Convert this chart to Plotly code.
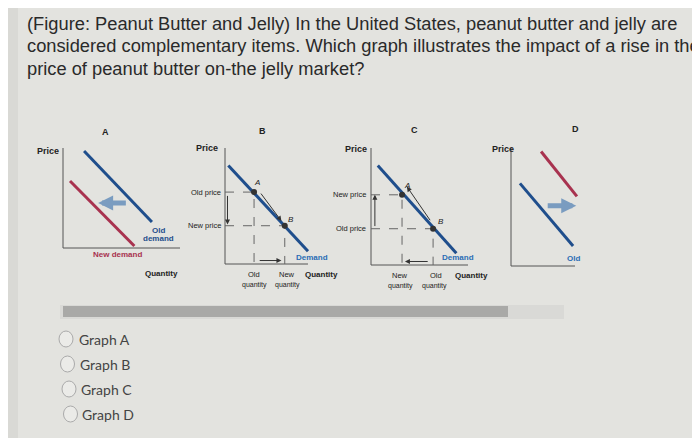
import plotly.graph_objects as go

W, H = 700, 438
BG = "#e3e3df"
BLUE = "#1f4e8c"
RED = "#a8324f"
LBLUE = "#2a6db5"

question = [
    "(Figure: Peanut Butter and Jelly) In the United States, peanut butter and jelly are",
    "considered complementary items. Which graph illustrates the impact of a rise in the",
    "price of peanut butter on-the jelly market?",
]
choices = ["Graph A", "Graph B", "Graph C", "Graph D"]

# graph A: old and new demand
a_old_x, a_old_y = [1.8, 7.6], [9.7, 2.6]
a_new_x, a_new_y = [0.6, 6.1], [6.7, 0.2]
# graph B: movement along demand, price falls
b_dem_x, b_dem_y = [0.4, 10.0], [8.5, 1.1]
b_pts_x, b_pts_y = [3.5, 7.2], [6.2, 3.3]
# graph C: movement along demand, price rises
c_dem_x, c_dem_y = [0.7, 8.8], [8.5, 1.0]
c_pts_x, c_pts_y = [3.2, 6.4], [6.0, 3.1]
# graph D: old and new demand
d_old_x, d_old_y = [1.4, 9.7], [7.0, 1.7]
d_new_x, d_new_y = [4.7, 10.3], [9.7, 5.9]

# pixel boxes of the four little axes (left, right, top, bottom); data 0..10 inside
boxes = [(55, 172, 140, 240), (217, 300, 140, 256), (363, 460, 140, 257), (503, 567, 140, 258)]
XLO, XHI, YLO, YHI = -4.5, 13.5, -3.0, 12.5

fig = go.Figure()
for i, (l, r, t, b) in enumerate(boxes):
    n = "" if i == 0 else str(i + 1)
    kx = (r - l) / 10
    ky = (b - t) / 10
    fig.update_layout(**{
        f"xaxis{n}": dict(domain=[(l + XLO * kx) / W, (l + XHI * kx) / W], range=[XLO, XHI], visible=False,
                          anchor=f"y{n}", fixedrange=True),
        f"yaxis{n}": dict(domain=[1 - (b - YLO * ky) / H, 1 - (b - YHI * ky) / H], range=[YLO, YHI],
                          visible=False, anchor=f"x{n}", fixedrange=True),
    })


def line(x, y, color, ax, width=3, dash=None, mode="lines"):
    fig.add_trace(go.Scatter(x=x, y=y, mode=mode, line=dict(color=color, width=width, dash=dash),
                             marker=dict(size=6, color="#333"), xaxis="x" + ax, yaxis="y" + ax,
                             hoverinfo="skip", cliponaxis=False))


for ax in ["", "2", "3", "4"]:
    line([0, 0, 10], [10, 0, 0], "#555", ax, width=1)

line(a_old_x, a_old_y, BLUE, "")
line(a_new_x, a_new_y, RED, "")
line(b_dem_x, b_dem_y, BLUE, "2")
line(c_dem_x, c_dem_y, BLUE, "3")
line(d_old_x, d_old_y, BLUE, "4")
line(d_new_x, d_new_y, RED, "4")

for ax, px, py in [("2", b_pts_x, b_pts_y), ("3", c_pts_x, c_pts_y)]:
    for xv, yv in zip(px, py):
        line([0, xv, xv], [yv, yv, 0], "#666", ax, width=1, dash="dash")
    line(px, py, "#333", ax, width=0.1, mode="markers")

ann = []


def txt(s, x, y, ax, size=9, color="#222", xanchor="center", bold=True, italic=False):
    if bold:
        s = f"<b>{s}</b>"
    if italic:
        s = f"<i>{s}</i>"
    ann.append(dict(text=s, x=x, y=y, xref="x" + ax, yref="y" + ax, showarrow=False,
                    font=dict(size=size, color=color, family="Liberation Sans"), xanchor=xanchor))


def arrow(x0, y0, x1, y1, ax, color="#333", width=1, head=2, size=1):
    ann.append(dict(x=x1, y=y1, ax=x0, ay=y0, xref="x" + ax, yref="y" + ax, axref="x" + ax,
                    ayref="y" + ax, showarrow=True, arrowhead=head, arrowwidth=width,
                    arrowcolor=color, arrowsize=size, text=""))


# A
txt("A", 3.6, 11.6, "")
txt("Price", -1.3, 9.7, "")
txt("Old", 8.2, 1.8, "", color=BLUE, size=8)
txt("demand", 8.2, 1.0, "", color=BLUE, size=8)
txt("New demand", 4.7, -0.6, "", color=RED, size=8)
txt("Quantity", 8.4, -2.5, "", size=8)
arrow(5.5, 4.5, 3.0, 4.5, "", color="#7a9cc0", width=5, head=2, size=0.6)
# B
txt("B", 4.5, 11.5, "2")
txt("Price", -2.2, 10.0, "2")
txt("Old price", -0.3, 6.2, "2", size=7.5, xanchor="right", bold=False)
txt("New price", -0.3, 3.3, "2", size=7.5, xanchor="right", bold=False)
txt("A", 3.8, 7.0, "2", size=8, bold=False, italic=True)
txt("B", 8.0, 3.8, "2", size=8, bold=False, italic=True)
txt("Demand", 10.5, 0.6, "2", color=LBLUE, size=8)
txt("Old", 3.5, -0.9, "2", size=7.5, bold=False)
txt("quantity", 3.5, -1.8, "2", size=7, bold=False)
txt("New", 7.5, -0.9, "2", size=7.5, bold=False)
txt("quantity", 7.5, -1.8, "2", size=7, bold=False)
txt("Quantity", 11.6, -0.9, "2", size=8)
arrow(0.3, 6.0, 0.3, 3.4, "2")
arrow(4.0, 0.3, 6.8, 0.3, "2")
arrow(4.2, 6.2, 6.8, 3.7, "2")
# C
txt("C", 4.5, 11.5, "3")
txt("Price", -1.5, 9.9, "3")
txt("New price", -0.3, 6.0, "3", size=7.5, xanchor="right", bold=False)
txt("Old price", -0.3, 3.1, "3", size=7.5, xanchor="right", bold=False)
txt("A", 3.7, 6.8, "3", size=8, bold=False, italic=True)
txt("B", 7.2, 3.7, "3", size=8, bold=False, italic=True)
txt("Demand", 9.0, 0.6, "3", color=LBLUE, size=8)
txt("New", 3.0, -0.9, "3", size=7.5, bold=False)
txt("quantity", 3.0, -1.8, "3", size=7, bold=False)
txt("Old", 6.7, -0.9, "3", size=7.5, bold=False)
txt("quantity", 6.5, -1.8, "3", size=7, bold=False)
txt("Quantity", 10.4, -0.9, "3", size=8)
arrow(0.4, 3.2, 0.4, 6.0, "3")
arrow(6.0, 0.3, 3.5, 0.3, "3")
arrow(6.2, 3.7, 3.7, 6.7, "3")
# D
txt("D", 10.0, 11.6, "4")
txt("Price", -1.3, 9.9, "4")
txt("Old", 9.7, 0.6, "4", color=LBLUE, size=8)
arrow(5.5, 5.1, 10.2, 5.1, "4", color="#7a9cc0", width=5, head=2, size=0.6)

# question text
for k, s in enumerate(question):
    ann.append(dict(text=s, x=17 / W, y=1 - (15 + 22.5 * k) / H, xref="paper", yref="paper",
                    xanchor="left", yanchor="middle", showarrow=False,
                    font=dict(size=18.3, color="#2a2a2a", family="Liberation Sans")))
# answer choices
shapes = []
for k, s in enumerate(choices):
    yc = 331 + 25 * k
    ann.append(dict(text=s, x=(69 + k) / W, y=1 - yc / H, xref="paper", yref="paper", xanchor="left",
                    yanchor="middle", showarrow=False,
                    font=dict(size=14, color="#444", family="Lato")))
    cx = 58 + k * 1.5
    shapes.append(dict(type="circle", xref="paper", yref="paper", x0=(cx - 7) / W, x1=(cx + 7) / W,
                       y0=1 - (yc + 8) / H, y1=1 - (yc - 8) / H, line=dict(color="#aaa", width=1),
                       fillcolor="#ebebe8"))
# scrollbar
shapes.append(dict(type="rect", xref="paper", yref="paper", x0=52 / W, x1=556 / W, y0=1 - 311 / H,
                   y1=1 - 297 / H, line=dict(width=0), fillcolor="#d9d9d6"))
shapes.append(dict(type="rect", xref="paper", yref="paper", x0=55 / W, x1=500 / W, y0=1 - 309 / H,
                   y1=1 - 298 / H, line=dict(width=0), fillcolor="#a9a9a7"))
shapes.append(dict(type="rect", xref="paper", yref="paper", x0=0, x1=10 / W, y0=0, y1=1,
                   line=dict(width=0), fillcolor="#d9d9d5", layer="below"))

fig.update_layout(width=W, height=H, margin=dict(l=0, r=0, t=0, b=0, autoexpand=False), showlegend=False,
                  paper_bgcolor=BG, plot_bgcolor="rgba(0,0,0,0)", annotations=ann, shapes=shapes)
fig.write_html("out.html", config={"displayModeBar": False})
